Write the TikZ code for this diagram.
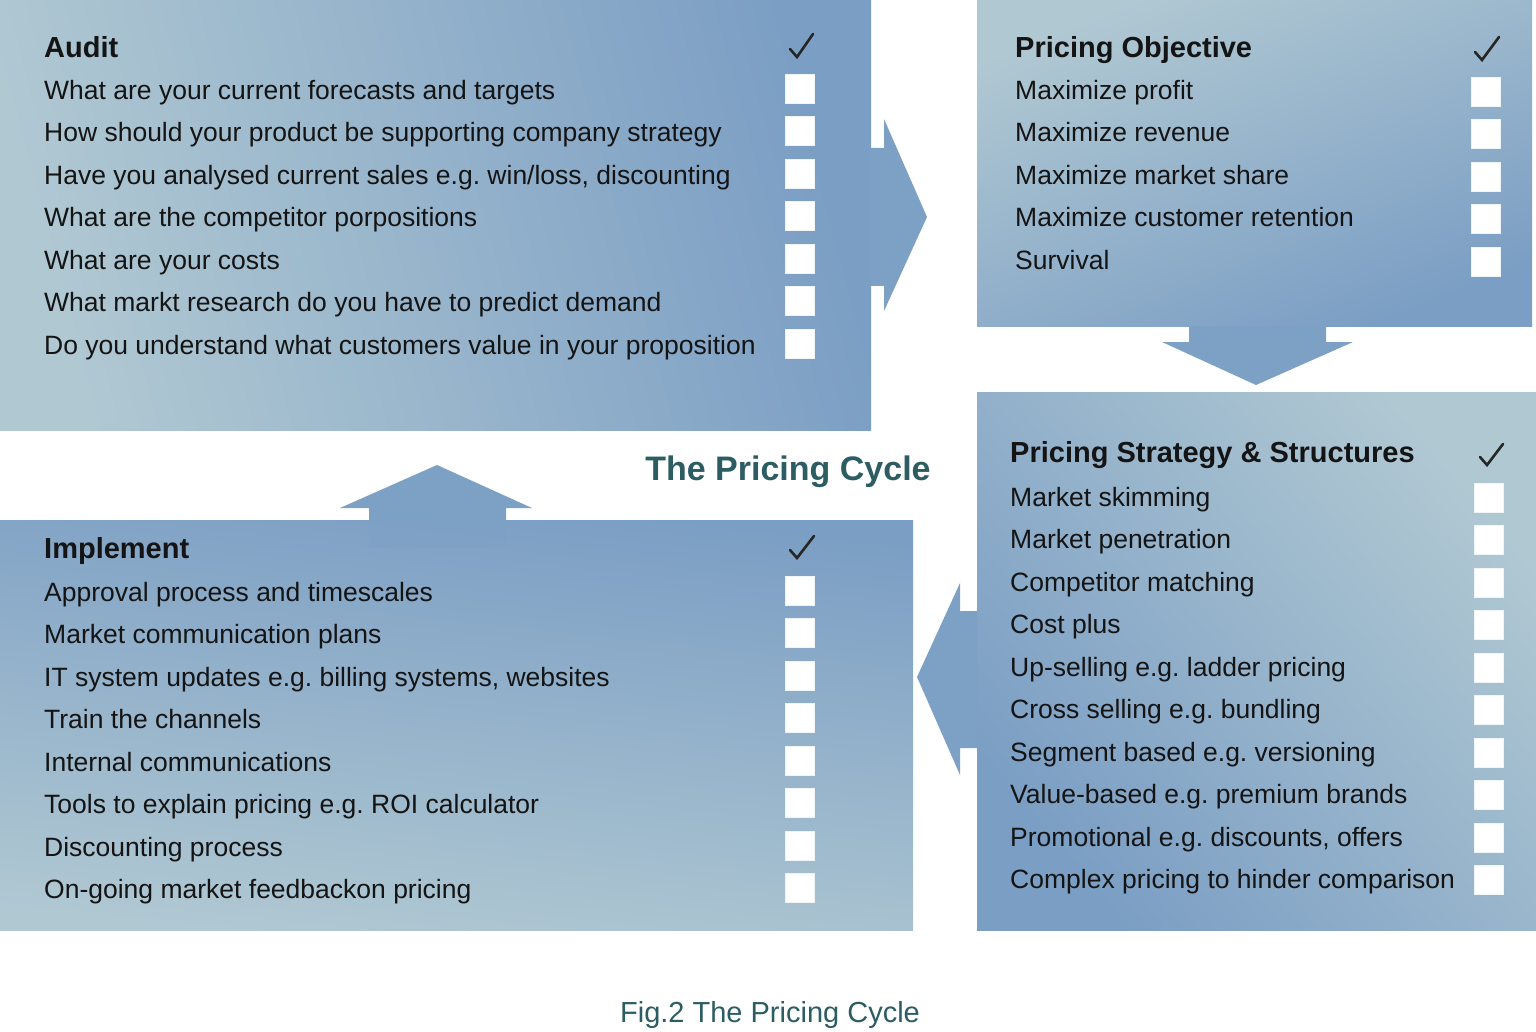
\documentclass[tikz,border=0pt]{standalone}
\usepackage{fontspec}
\setmainfont{Liberation Sans}
\frenchspacing
\definecolor{lite}{HTML}{B0C8D2}
\definecolor{darkb}{HTML}{7B9EC4}
\definecolor{arrowc}{HTML}{7DA0C5}
\definecolor{cyctitle}{HTML}{2C5D63}
\tikzset{
  panel/.style={inner sep=0pt, outer sep=0pt, anchor=north west, draw=none},
  item/.style={anchor=base west, inner sep=0pt, font=\fontsize{26.5}{30}\selectfont, text=black!92},
  head/.style={anchor=base west, inner sep=0pt, font=\fontsize{29}{33}\selectfont\bfseries, text=black!92},
  cbox/.style={fill=white, draw=white!80!lite, line width=0.8pt, minimum size=29pt, inner sep=0pt},
  tick/.style={line width=2.6pt, draw=black!85, line cap=round, line join=miter},
  bigarrow/.style={fill=arrowc, draw=none},
}
\begin{document}
\begin{tikzpicture}[x=1pt,y=-1pt]
\useasboundingbox (0,0) rectangle (1536,1032);
\fill[white] (0,0) rectangle (1536,1032);

% panels
\node[panel, minimum width=871pt, minimum height=430pt, top color=darkb, bottom color=lite, shading angle=-75] (audit) at (0,0) {};
\node[panel, minimum width=555pt, minimum height=326pt, top color=lite, bottom color=darkb, shading angle=22] (objective) at (977,0) {};
\node[panel, minimum width=559pt, minimum height=538pt, top color=lite, bottom color=darkb, shading angle=-50] (strategy) at (977,392) {};
\node[panel, minimum width=913pt, minimum height=410pt, top color=darkb, bottom color=lite, shading angle=-6] (implement) at (0,520) {};

% block arrows
\fill[bigarrow] (871,148) -- (884,148) -- (884,119) -- (927,217) -- (884,311) -- (884,286) -- (871,286) -- cycle;
\fill[bigarrow] (1189,326) -- (1189,342) -- (1162,342) -- (1256,385) -- (1353,342) -- (1326,342) -- (1326,326) -- cycle;
\fill[bigarrow] (977,611) -- (960,611) -- (960,583) -- (917,677) -- (960,775) -- (960,748) -- (977,748) -- cycle;
\fill[bigarrow] (369,520) -- (369,508) -- (340,508) -- (437,465) -- (532,508) -- (506,508) -- (506,520) -- cycle;
\fill[arrowc, fill opacity=0.35] (369,520) rectangle (506,548);

% Audit
\node[head] (auh) at (44,57.5) {Audit};
\draw[tick] (790,49) -- (797,57) -- (813,34);
\foreach \t [count=\i from 0] in {What are your current forecasts and targets,
  How should your product be supporting company strategy,
  {Have you analysed current sales e.g. win/loss, discounting},
  What are the competitor porpositions,
  What are your costs,
  What markt research do you have to predict demand,
  Do you understand what customers value in your proposition}{
  \node[item] (au\i) at (44,99.5+42.5*\i) {\t};
  \node[cbox] (auc\i) at (800,88.5+42.5*\i) {};
}

% Pricing Objective
\node[head] (obh) at (1015,57.5) {Pricing Objective};
\draw[tick] (1475,52) -- (1482,60) -- (1499,37);
\foreach \t [count=\i from 0] in {Maximize profit, Maximize revenue, Maximize market share,
  Maximize customer retention, Survival}{
  \node[item] (ob\i) at (1015,99.5+42.5*\i) {\t};
  \node[cbox] (obc\i) at (1486,91.5+42.5*\i) {};
}

% Pricing Strategy & Structures
\node[head] (sth) at (1010,462.5) {Pricing Strategy \& Structures};
\draw[tick] (1480,457) -- (1487,465) -- (1503,444);
\foreach \t [count=\i from 0] in {Market skimming, Market penetration, Competitor matching, Cost plus,
  Up-selling e.g. ladder pricing, Cross selling e.g. bundling, Segment based e.g. versioning,
  Value-based e.g. premium brands, {Promotional e.g. discounts, offers},
  Complex pricing to hinder comparison}{
  \node[item] (st\i) at (1010,506+42.5*\i) {\t};
  \node[cbox] (stc\i) at (1489,497.5+42.5*\i) {};
}

% Implement
\node[head] (imh) at (44,558.5) {Implement};
\draw[tick] (790,550) -- (797,558) -- (814,536);
\foreach \t [count=\i from 0] in {Approval process and timescales, Market communication plans,
  {IT system updates e.g. billing systems, websites}, Train the channels,
  Internal communications, Tools to explain pricing e.g. ROI calculator,
  Discounting process, On-going market feedbackon pricing}{
  \node[item] (im\i) at (44,601+42.5*\i) {\t};
  \node[cbox] (imc\i) at (800,590.5+42.5*\i) {};
}

% titles
\node[anchor=base, inner sep=0pt, font=\fontsize{34}{38}\selectfont\bfseries, text=cyctitle] (cycle) at (788,480) {The Pricing Cycle};
\node[anchor=base, inner sep=0pt, font=\fontsize{29}{33}\selectfont, text=cyctitle] (caption) at (770,1022) {Fig.2 The Pricing Cycle};
\end{tikzpicture}
\end{document}
